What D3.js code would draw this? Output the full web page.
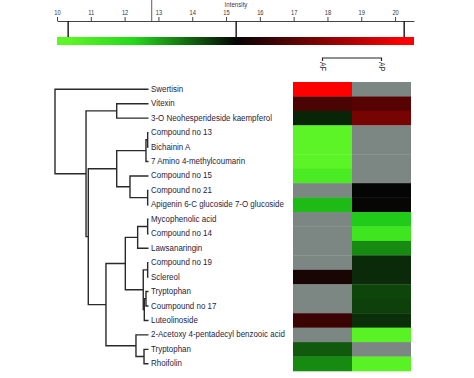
<!DOCTYPE html>
<html>
<head>
<meta charset="utf-8">
<script src="https://cdn.jsdelivr.net/npm/d3@7"></script>
<style>
  body { margin: 0; background: #fff; }
  text { font-family: 'Liberation Sans', Arial, sans-serif; }
  .label { font-size: 9.7px; fill: #1f2440; }
  .tick text { font-size: 7px; fill: #333; }
</style>
</head>
<body>
<svg width="474" height="378"></svg>
<script>
  // compounds, top to bottom
  const compounds = ['Swertisin', 'Vitexin', '3-O Neohesperideside kaempferol',
    'Compound no 13', 'Bichainin A', '7 Amino 4-methylcoumarin', 'Compound no 15',
    'Compound no 21', 'Apigenin 6-C glucoside 7-O glucoside', 'Mycophenolic acid',
    'Compound no 14', 'Lawsanaringin', 'Compound no 19', 'Sclereol', 'Tryptophan',
    'Coumpound no 17', 'Luteolinoside', '2-Acetoxy 4-pentadecyl benzooic acid',
    'Tryptophan', 'Rhoifolin'];

  const samples = ['AF', 'AP'];

  // log intensities, null = not detected (grey)
  const afValues = [20.27, 16.67, 14.84, 10.4, 10.4, 10.4, 11.0, null, 12.71, null,
    null, null, null, 15.72, null, null, 16.35, null, 14.09, 13.41];
  const apValues = [null, 16.95, 17.59, null, null, null, null, 15.3, 15.35, 12.47,
    11.35, 13.41, 14.77, 14.77, 14.39, 14.46, 14.69, 10.5, null, 10.5];

  // linkage: [child a, child b, height]; ids < 20 are leaves, merge k gets id 20 + k
  const merges = [
    [3, 4, 0.09], [20, 5, 0.27], [7, 8, 0.09], [6, 22, 1.98], [21, 23, 3.40],
    [1, 2, 3.40], [9, 10, 0.09], [26, 11, 1.16], [12, 13, 0.09], [14, 15, 0.27],
    [29, 16, 0.45], [28, 30, 0.56], [27, 31, 2.48], [18, 19, 0.48], [17, 33, 1.34],
    [32, 34, 4.55], [24, 35, 6.44], [25, 36, 6.68], [0, 37, 10]
  ];

  const colorStops = [10.33, 12.3, 15.3, 20.27];
  const colorRange = ['#5ef526', '#22d81a', '#050505', '#ff0000'];
  const scaleTicks = [10, 11, 12, 13, 14, 15, 16, 17, 18, 19, 20];
  const markerValue = 12.8;

  const svg = d3.select('svg');

  const color = d3.scaleLinear().domain(colorStops).range(colorRange).clamp(true);
  const naColor = '#7c8683';
  const narrow = 0.82; // the original uses a condensed face

  // ---- colour key ----
  const keyX = d3.scaleLinear().domain([10, 20.56]).range([57, 414]);
  const axisY = 21;

  svg.append('g')
    .attr('transform', `translate(0,${axisY})`)
    .call(d3.axisTop(keyX).tickValues(scaleTicks).tickSize(4).tickSizeOuter(0).tickPadding(2))
    .call(g => g.selectAll('path, line').attr('stroke', '#444'))
    .call(g => g.selectAll('.tick text')
      .attr('transform', function() { return `translate(0,${this.getAttribute('y')}) scale(${narrow},1)`; })
      .attr('y', null));

  svg.append('text')
    .attr('transform', `translate(236,7) scale(${narrow},1)`)
    .attr('text-anchor', 'middle')
    .attr('font-size', 7.5).attr('fill', '#3a3a55')
    .text('Intensity');

  svg.append('line')
    .attr('x1', keyX(markerValue)).attr('x2', keyX(markerValue))
    .attr('y1', 0).attr('y2', axisY)
    .attr('stroke', '#777').attr('stroke-width', 1.2);

  const grad = svg.append('defs').append('linearGradient')
    .attr('id', 'keygrad').attr('x1', '0%').attr('x2', '100%');
  d3.range(0, 1.0001, 0.02).forEach(t => {
    grad.append('stop')
      .attr('offset', `${t * 100}%`)
      .attr('stop-color', color(keyX.invert(57 + t * (414 - 57))));
  });

  svg.append('rect')
    .attr('x', 57).attr('y', 37).attr('width', 414 - 57).attr('height', 8)
    .attr('fill', 'url(#keygrad)');

  svg.selectAll('.stopline').data([colorStops[0], colorStops[2], colorStops[3]])
    .enter().append('line')
      .attr('x1', d => keyX(d)).attr('x2', d => keyX(d))
      .attr('y1', axisY).attr('y2', 37)
      .attr('stroke', '#222').attr('stroke-width', 1.5);

  // ---- heatmap ----
  const yScale = d3.scaleBand().domain(d3.range(compounds.length)).range([82, 371]);
  const xScale = d3.scaleBand().domain(samples).range([293, 411]);

  const cells = [];
  compounds.forEach((c, i) => {
    cells.push({ row: i, col: 'AF', v: afValues[i] });
    cells.push({ row: i, col: 'AP', v: apValues[i] });
  });

  svg.append('g').selectAll('rect').data(cells)
    .enter().append('rect')
      .attr('x', d => xScale(d.col))
      .attr('y', d => yScale(d.row))
      .attr('width', xScale.bandwidth())
      .attr('height', yScale.bandwidth() + 0.3)
      .attr('fill', d => d.v == null ? naColor : color(d.v));

  // column bracket + labels
  const colMid = s => xScale(s) + xScale.bandwidth() / 2;
  svg.append('path')
    .attr('d', `M${colMid('AF')},61V58H${colMid('AP')}V61`)
    .attr('fill', 'none').attr('stroke', '#222').attr('stroke-width', 1.2);

  svg.selectAll('.collab').data(samples)
    .enter().append('text')
      .attr('transform', d => `translate(${colMid(d)},62) rotate(90) scale(${narrow},1)`)
      .attr('dominant-baseline', 'middle')
      .attr('font-size', 8.5).attr('fill', '#222')
      .text(d => d);

  // ---- dendrogram ----
  const hScale = d3.scaleLinear().domain([0, 10]).range([148.5, 55]);
  const nodeY = compounds.map((c, i) => yScale(i) + yScale.bandwidth() / 2);
  const nodeH = compounds.map(() => 0);
  merges.forEach(([a, b, h]) => {
    nodeY.push((nodeY[a] + nodeY[b]) / 2);
    nodeH.push(h);
  });

  const tree = svg.append('g')
    .attr('fill', 'none').attr('stroke', '#2a2a2a').attr('stroke-width', 1.4);
  merges.forEach(([a, b, h]) => {
    const x = hScale(h);
    tree.append('path')
      .attr('d', `M${hScale(nodeH[a])},${nodeY[a]}H${x}V${nodeY[b]}H${hScale(nodeH[b])}`);
  });

  svg.append('g').selectAll('text').data(compounds)
    .enter().append('text')
      .attr('class', 'label')
      .attr('transform', (d, i) => `translate(151,${nodeY[i]}) scale(${narrow},1)`)
      .attr('dominant-baseline', 'middle')
      .text(d => d);
</script>
</body>
</html>
